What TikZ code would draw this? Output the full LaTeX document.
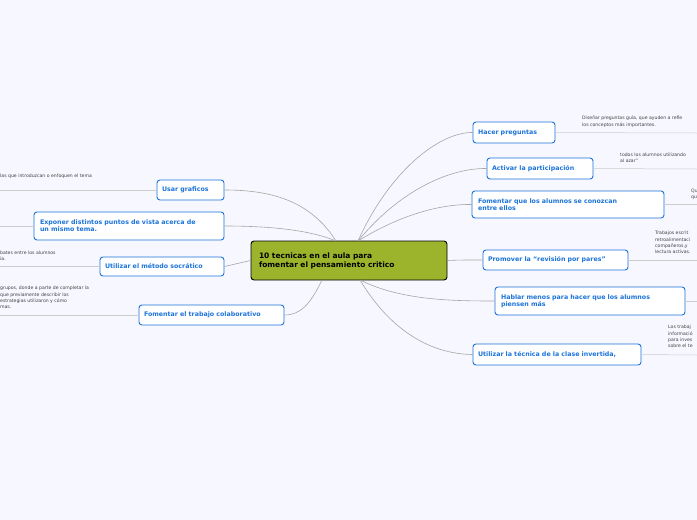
\documentclass[tikz,border=0pt]{standalone}
\usepackage{fontspec}
\setmainfont{DejaVu Sans}
\definecolor{cen}{HTML}{9CB42C}
\definecolor{tb}{HTML}{1C74D9}
\begin{document}
\begin{tikzpicture}[x=1pt,y=-1pt,
 topic/.style={draw=tb,line width=0.9pt,fill=white,rounded corners=3pt,text=tb,font=\fontsize{6.3}{7.2}\selectfont\bfseries,align=left,inner sep=0pt},
 leaf/.style={font=\fontsize{4.6}{6.4}\selectfont,text=black!75,align=left,anchor=north west,inner sep=0pt},
 con/.style={draw=black!35,line width=0.6pt},
 und/.style={draw=black!20,line width=0.5pt}]
\fill[blue!3!white] (0,0) rectangle (697,520);
\useasboundingbox (0,0) rectangle (697,520);
\node[draw=black,line width=0.9pt,fill=cen,rounded corners=3pt,minimum width=196pt,minimum height=39pt,text width=180pt,font=\fontsize{7.5}{9}\selectfont\bfseries,align=left] (c) at (349,260.5) {10 tecnicas en el aula para\\fomentar el pensamiento critico};
\node[topic,minimum width=82pt,minimum height=21pt,text width=72pt] (r1) at (514,132.5) {Hacer preguntas};
\node[topic,minimum width=106pt,minimum height=21pt,text width=96pt] (r2) at (540,168.5) {Activar la participación};
\node[topic,minimum width=192pt,minimum height=27pt,text width=180pt] (r3) at (568,204.5) {Fomentar que los alumnos se conozcan\\entre ellos};
\node[topic,minimum width=145pt,minimum height=20pt,text width=135pt] (r4) at (555.5,260) {Promover la ``revisión por pares''};
\node[topic,minimum width=190pt,minimum height=28pt,text width=178pt] (r5) at (590,301) {Hablar menos para hacer que los alumnos\\piensen más};
\node[topic,minimum width=168pt,minimum height=21pt,text width=158pt] (r6) at (557,354.5) {Utilizar la técnica de la clase invertida,};
\node[topic,minimum width=67pt,minimum height=20pt,text width=57pt] (l1) at (190.5,190) {Usar graficos};
\node[topic,minimum width=190pt,minimum height=28pt,text width=178pt] (l2) at (129,226) {Exponer distintos puntos de vista acerca de\\un mismo tema.};
\node[topic,minimum width=124pt,minimum height=19pt,text width=114pt] (l3) at (162,266.5) {Utilizar el método socrático};
\node[topic,minimum width=145pt,minimum height=20pt,text width=135pt] (l4) at (211.5,315) {Fomentar el trabajo colaborativo};
\coordinate (cr) at (358,241); \coordinate (crb) at (360,280);
\coordinate (cl) at (336,241); \coordinate (clb) at (322,280);
\draw[con] (cr) .. controls (390,170) and (440,132) .. (r1.west);
\draw[con] (cr) .. controls (400,190) and (450,168) .. (r2.west);
\draw[con] (cr) .. controls (400,215) and (440,204) .. (r3.west);
\draw[con] (c.east) .. controls (460,260) .. (r4.west);
\draw[con] (crb) .. controls (400,300) and (450,301) .. (r5.west);
\draw[con] (crb) .. controls (390,330) and (430,354) .. (r6.west);
\draw[con] (cl) .. controls (310,200) and (270,190) .. (l1.east);
\draw[con] (cl) .. controls (310,230) and (270,226) .. (l2.east);
\draw[con] (c.west) -- (l3.east);
\draw[con] (clb) .. controls (310,305) and (300,315) .. (l4.east);
\node[leaf] (t1) at (582,116) {Diseñar preguntas guía, que ayuden a refle\\los conceptos más importantes.};
\draw[und] (r1.east) -- (697,133);
\node[leaf] (t2) at (620,152.5) {todos los alumnos utilizando\\al azar''};
\draw[und] (r2.east) -- (697,169);
\node[leaf] (t3) at (691,188.5) {Qu\\qu};
\draw[und] (r3.east) -- (697,204.5);
\node[leaf] (t4) at (655,231) {Trabajos escrit\\retroalimentaci\\compañeros,y\\lectura activas.};
\draw[und] (r4.east) -- (697,260);
\draw[und] (r5.east) -- (697,301);
\node[leaf] (t6) at (668,325) {Los trabaj\\informació\\para inves\\sobre el te};
\draw[und] (r6.east) -- (697,355);
\node[leaf] (u1) at (0,174) {las que introduzcan o enfoquen el tema};
\draw[und] (l1.west) -- (0,190);
\draw[und] (l2.west) -- (0,226);
\node[leaf] (u3) at (0,250.5) {bates entre los alumnos\\ia.};
\draw[und] (l3.west) -- (0,266.5);
\node[leaf] (u4) at (0,286) {grupos, donde a parte de completar la\\ que previamente describir los\\ estrategias utilizaron y cómo\\mas.};
\draw[und] (l4.west) -- (0,315);
\end{tikzpicture}
\end{document}
